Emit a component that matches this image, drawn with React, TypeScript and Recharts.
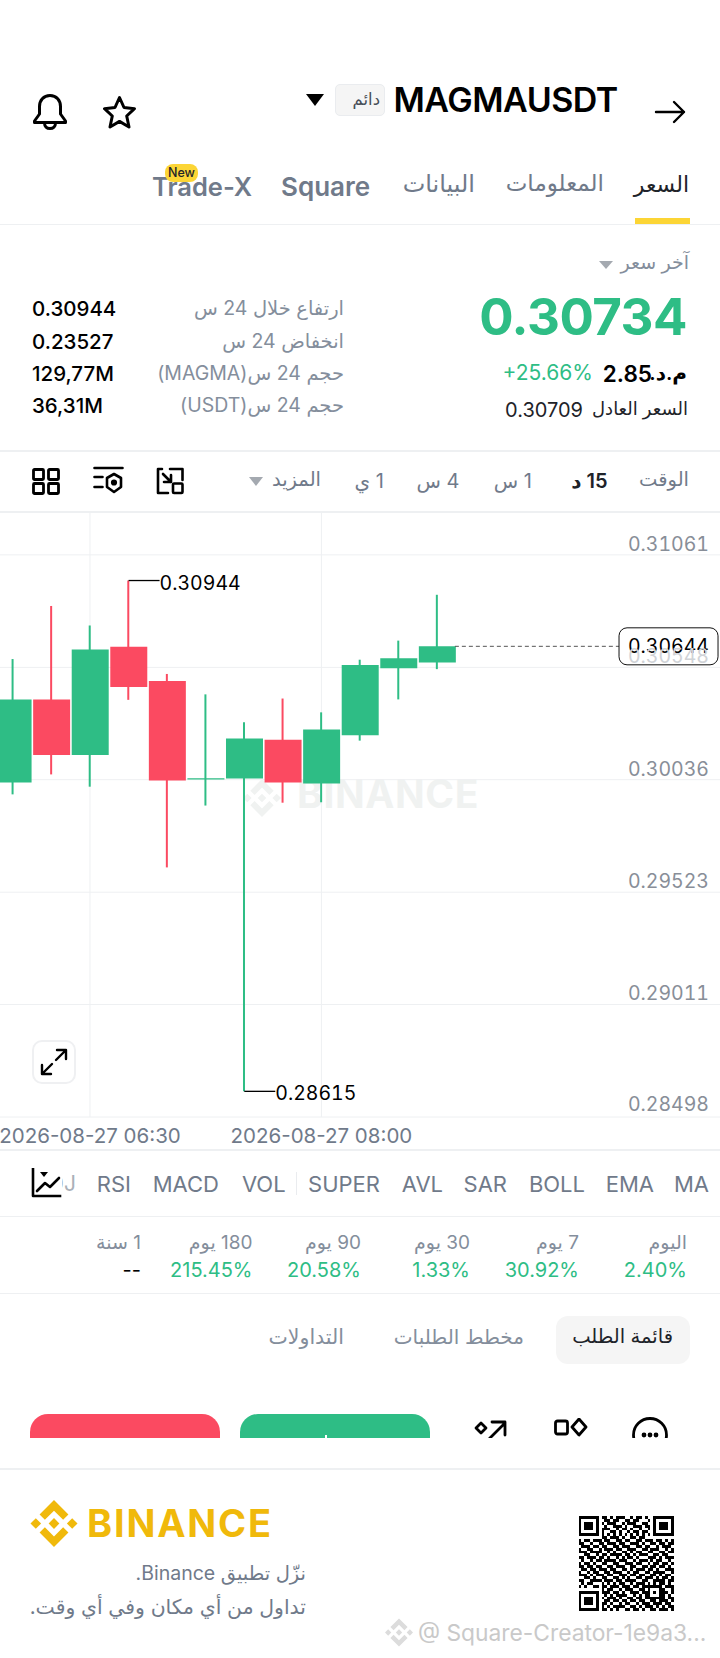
import React from "react";
import { ComposedChart, Bar, Cell, XAxis, YAxis, CartesianGrid, ReferenceDot, ReferenceLine } from "recharts";

const candleIndex = [0, 1, 2, 3, 4, 5, 6, 7, 8, 9, 10, 11];
const opens = [0.30023, 0.30402, 0.30149, 0.30642, 0.30486, 0.30037, 0.30041, 0.30218, 0.30019, 0.30238, 0.30544, 0.3057];
const closes = [0.30402, 0.30149, 0.30629, 0.30458, 0.30032, 0.30043, 0.30224, 0.30023, 0.30265, 0.30559, 0.3059, 0.30644];
const highs = [0.30586, 0.30828, 0.30739, 0.30944, 0.30518, 0.30425, 0.30298, 0.30406, 0.30343, 0.30583, 0.3067, 0.30879];
const lows = [0.29969, 0.3006, 0.30004, 0.304, 0.29636, 0.29918, 0.28615, 0.29931, 0.29933, 0.30214, 0.30402, 0.3054];
const priceTicks = [0.31061, 0.30548, 0.30036, 0.29523, 0.29011, 0.28498];
const timeTicks = [2, 8];
const timeLabels = ["2026-08-27 06:30", "2026-08-27 08:00"];
const lastPrice = 0.30644;
const highMark = { i: 3, v: 0.30944 };
const lowMark = { i: 6, v: 0.28615 };

const tabs = [
  { t: "السعر", x: 689, s: 22, c: "#1e2329", w: 400 },
  { t: "المعلومات", x: 604, s: 23, c: "#707a8a", w: 400 },
  { t: "البيانات", x: 475, s: 24, c: "#707a8a", w: 400 },
];
const leftLabels = ["ارتفاع خلال 24 س", "انخفاض 24 س", "حجم 24 س(MAGMA)", "حجم 24 س(USDT)"];
const leftValues = ["0.30944", "0.23527", "129,77M", "36,31M"];
const leftRows = [309, 342, 374, 406];
const intervals = [
  { t: "15 د", x: 607.5, c: "#1e2329", w: 600 },
  { t: "1 س", x: 532, c: "#707a8a", w: 400 },
  { t: "4 س", x: 459.5, c: "#707a8a", w: 400 },
  { t: "1 ي", x: 384, c: "#707a8a", w: 400 },
];
const indicators = [
  { t: "MA", x: 709 }, { t: "EMA", x: 654 }, { t: "BOLL", x: 585 }, { t: "SAR", x: 507 },
  { t: "AVL", x: 443 }, { t: "SUPER", x: 380 }, { t: "VOL", x: 285.6 }, { t: "MACD", x: 219 }, { t: "RSI", x: 131 },
];
const statLabels = ["اليوم", "7 يوم", "30 يوم", "90 يوم", "180 يوم", "1 سنة"];
const statValues = ["2.40%", "30.92%", "1.33%", "20.58%", "215.45%", "--"];
const statRights = [687, 579, 470, 361, 252.5, 141];

const qrRows = [
  "111111101101011100101101001111111",
  "100000100110110011011000101000001",
  "101110101011100101110011001011101",
  "101110100100111010011101101011101",
  "101110101110010110100100101011101",
  "100000101001101001011011001000001",
  "111111101010101010101010101111111",
  "000000001101110100110110000000000",
  "101101110110011011001101110110101",
  "110010011011101100111010011011011",
  "011101101100110111001101100101110",
  "100110010111011001110011011100101",
  "111011110010100110101100110011011",
  "001100101101111011010111001101100",
  "110111011010010101101000111010111",
  "010010110111101110010111010110010",
  "101101001100110011101100101101101",
  "110110110011011100110011011011010",
  "011011011101100110101110110100111",
  "100101100110111001011001101111001",
  "111010111011001110110110011010110",
  "001101001100110101001101110101101",
  "110011110111011011110011001111011",
  "010110001010101100101110101011010",
  "101001101101110111011011111110111",
  "000000001011001011100110100011001",
  "111111101110110100111011101011101",
  "100000100101011110010101100011010",
  "101110101011101001101101111111011",
  "101110100110110110110110011011101",
  "101110101101001011001011101110110",
  "100000101010111100110101110101011",
  "111111101101010011011010011011101",
];

const FONT = "Inter, 'DejaVu Sans', sans-serif";
const GREEN = "#2ebd85";
const RED = "#fb4a61";
const GRAY = "#707a8a";
const LINE = "#eef0f2";

const rows = candleIndex.map((i) => ({
  i,
  wick: [lows[i], highs[i]],
  body: [Math.min(opens[i], closes[i]), Math.max(opens[i], closes[i])],
  up: closes[i] >= opens[i],
}));

const T = ({ x, y, s, c = "#1e2329", w = 400, r = false, rtl = false, ls, children }: any) => (
  <div
    style={{
      position: "absolute",
      top: y,
      ...(r ? { right: 720 - x } : { left: x }),
      transform: "translateY(-50%)",
      fontSize: s,
      color: c,
      fontWeight: w,
      lineHeight: 1.2,
      whiteSpace: "nowrap",
      direction: rtl ? "rtl" : "ltr",
      fontFamily: FONT,
      letterSpacing: ls,
    }}
  >
    {children}
  </div>
);

const Rule = ({ y, h = 1 }: any) => (
  <div style={{ position: "absolute", left: 0, top: y, width: 720, height: h, background: LINE }} />
);

const Tri = ({ x, y, w, h, c }: any) => (
  <svg style={{ position: "absolute", left: x, top: y }} width={w} height={h}>
    <polygon points={`0,0 ${w},0 ${w / 2},${h}`} fill={c} />
  </svg>
);

const Icon = ({ x, y, w, h, vb, children, sw = 2.6 }: any) => (
  <svg
    style={{ position: "absolute", left: x, top: y }}
    width={w}
    height={h}
    viewBox={vb}
    fill="none"
    stroke="#000"
    strokeWidth={sw}
    strokeLinejoin="round"
    strokeLinecap="round"
  >
    {children}
  </svg>
);

const BinanceMark = ({ x, y, w, h, c }: any) => (
  <svg style={{ position: "absolute", left: x, top: y }} width={w} height={h} viewBox="0 0 126.61 126.61" fill={c}>
    <polygon points="38.73 53.2 63.3 28.63 87.88 53.21 102.18 38.91 63.3 0 24.43 38.9" />
    <polygon points="0 63.31 14.3 49 28.6 63.3 14.3 77.6" />
    <polygon points="38.73 73.41 63.3 97.99 87.88 73.4 102.19 87.7 63.3 126.6 24.43 87.73" />
    <polygon points="98 63.31 112.3 49 126.6 63.3 112.3 77.6" />
    <polygon points="77.79 63.3 63.3 48.8 48.81 63.28 63.3 77.79" />
  </svg>
);

const PriceTick = ({ y, payload }: any) => (
  <text
    x={709}
    y={y - (payload.value === 0.28498 ? 13 : 11)}
    textAnchor="end"
    dominantBaseline="central"
    fontSize={19.5}
    fill={payload.value === 0.30548 ? "#d0d3d7" : "#888e98"}
    fontFamily={FONT}
    style={{ fontVariantNumeric: "tabular-nums" }}
  >
    {payload.value.toFixed(5)}
  </text>
);

const TimeTick = ({ x, y, payload }: any) => (
  <text x={x} y={y + 10} textAnchor="middle" dominantBaseline="central" fontSize={20.5} fill={GRAY} fontFamily={FONT}>
    {timeLabels[timeTicks.indexOf(payload.value)]}
  </text>
);

const Extreme = ({ cx, cy, label }: any) => (
  <g>
    <line x1={cx} x2={cx + 31} y1={cy} y2={cy} stroke="#000" strokeWidth={1.3} />
    <text x={cx + 31} y={cy + 2} dominantBaseline="central" fontSize={19.5} fill="#000" fontFamily={FONT} style={{ fontVariantNumeric: "tabular-nums" }}>
      {label}
    </text>
  </g>
);

const PriceTag = ({ cx, cy }: any) => (
  <g>
    <rect x={cx} y={cy - 18.5} width={99} height={37} rx={8} fill="#fff" fillOpacity={0.85} stroke="#111" strokeWidth={1} />
    <text x={cx + 90} y={cy} textAnchor="end" dominantBaseline="central" fontSize={19.5} fill="#000" fontFamily={FONT} style={{ fontVariantNumeric: "tabular-nums" }}>
      {lastPrice.toFixed(5)}
    </text>
  </g>
);

const xDomain = [-0.3334, 18.334];
const yDomain = [0.28498, 0.31261];

function Chart() {
  return (
    <ComposedChart width={720} height={640} data={rows} margin={{ top: 0, right: 0, bottom: 0, left: 0 }} style={{ position: "absolute", left: 0, top: 511 }}>
      <CartesianGrid stroke={LINE} strokeWidth={1} xAxisId="t" yAxisId="p" syncWithTicks />
      <XAxis
        xAxisId="t"
        dataKey="i"
        type="number"
        domain={xDomain}
        allowDataOverflow
        ticks={timeTicks}
        interval={0}
        height={34}
        axisLine={false}
        tickLine={false}
        tick={<TimeTick />}
      />
      <XAxis xAxisId="w" dataKey="i" type="number" domain={xDomain} allowDataOverflow hide height={0} />
      <YAxis
        yAxisId="p"
        orientation="right"
        mirror
        width={1}
        type="number"
        domain={yDomain}
        allowDataOverflow
        ticks={priceTicks}
        interval={0}
        axisLine={false}
        tickLine={false}
        tick={<PriceTick />}
      />
      <Bar xAxisId="w" yAxisId="p" dataKey="wick" barSize={2} isAnimationActive={false}>
        {rows.map((d) => (
          <Cell key={d.i} fill={d.up ? GREEN : RED} />
        ))}
      </Bar>
      <Bar xAxisId="t" yAxisId="p" dataKey="body" barSize={37} isAnimationActive={false}>
        {rows.map((d) => (
          <Cell key={d.i} fill={d.up ? GREEN : RED} />
        ))}
      </Bar>
      <ReferenceLine
        xAxisId="t"
        yAxisId="p"
        segment={[{ x: 11.46, y: lastPrice }, { x: 15.716, y: lastPrice }]}
        stroke="#555"
        strokeDasharray="4 3"
        strokeWidth={1}
        ifOverflow="visible"
      />
      <ReferenceDot xAxisId="t" yAxisId="p" x={highMark.i} y={highMark.v} ifOverflow="visible" shape={(p: any) => <Extreme {...p} label={highMark.v.toFixed(5)} />} />
      <ReferenceDot xAxisId="t" yAxisId="p" x={lowMark.i} y={lowMark.v} ifOverflow="visible" shape={(p: any) => <Extreme {...p} label={lowMark.v.toFixed(5)} />} />
      <ReferenceDot xAxisId="t" yAxisId="p" x={15.716} y={lastPrice} ifOverflow="visible" shape={(p: any) => <PriceTag {...p} />} />
    </ComposedChart>
  );
}

export default function App() {
  return (
    <div style={{ position: "relative", width: 720, height: 1658, overflow: "hidden", background: "#fff", fontFamily: FONT }}>
      <style>{`html,body{margin:0;padding:0;background:#fff}`}</style>

      {/* header */}
      <Icon x={32} y={93} w={36} h={37} vb="0 0 36 37" sw={3}>
        <path d="M18 2.5c-6.5 0-10.5 5-10.5 11v7.5L2.5 28v1.5h31V28l-5-7v-7.5c0-6-4-11-10.5-11z" />
        <path d="M12.5 30c0 3.5 2.3 5.5 5.5 5.5s5.5-2 5.5-5.5" />
      </Icon>
      <Icon x={102} y={95} w={35} h={34} vb="0 0 35 34" sw={3}>
        <polygon points="17.5,2.5 22,12.5 32.5,13.7 24.7,21 27,32 17.5,26.4 8,32 10.3,21 2.5,13.7 13,12.5" />
      </Icon>
      <Tri x={306} y={94} w={18} h={12} c="#000" />
      <div style={{ position: "absolute", left: 335, top: 84, width: 50, height: 32, boxSizing: "border-box", background: "#f5f5f5", border: "1px solid #eaecef", borderRadius: 5 }} />
      <T x={380} y={100} s={16.5} c="#474d57" r rtl>دائم</T>
      <T x={393.5} y={100} s={34} w={600} c="#000" ls={-0.5}>MAGMAUSDT</T>
      <Icon x={654} y={100} w={33} h={24} vb="0 0 33 24" sw={2.4}>
        <path d="M2 12h28M20 2l10 10-10 10" />
      </Icon>

      {/* tabs */}
      {tabs.map((t) => (
        <T key={t.t} x={t.x} y={184} s={t.s} c={t.c} w={t.w} r rtl>{t.t}</T>
      ))}
      <T x={281} y={187} s={26} c={GRAY} w={600}>Square</T>
      <T x={152} y={187} s={25.5} c={GRAY} w={600}>Trade-X</T>
      <div style={{ position: "absolute", left: 165, top: 164, width: 33, height: 18, borderRadius: 8, background: "#fcd535", color: "#1e2329", fontSize: 12.5, fontWeight: 500, lineHeight: "18px", textAlign: "center" }}>New</div>
      <div style={{ position: "absolute", left: 635, top: 218, width: 55, height: 6, background: "#fcd535" }} />
      <Rule y={224} />

      {/* price */}
      <T x={689} y={263} s={19} c="#848e9c" r rtl>آخر سعر</T>
      <Tri x={599} y={261} w={14} h={8} c="#a4a9b0" />
      <T x={687} y={317} s={51} w={700} c={GREEN} r ls={-0.5}>0.30734</T>
      <T x={687} y={373} s={20} w={600} c="#000" r rtl>م.د.</T>
      <T x={652} y={373} s={22.5} w={600} c="#000" r>2.85</T>
      <T x={593} y={373} s={21} c={GREEN} r>+25.66%</T>
      <T x={688} y={409} s={18} c="#1e2329" r rtl>السعر العادل</T>
      <T x={583} y={410} s={20} c="#1e2329" r>0.30709</T>
      {leftLabels.map((t, k) => (
        <T key={t} x={344} y={leftRows[k]} s={19.5} c="#848e9c" r rtl>{t}</T>
      ))}
      {leftValues.map((t, k) => (
        <T key={t} x={32} y={leftRows[k]} s={20.5} w={500} c="#000">{t}</T>
      ))}
      <Rule y={450} h={1.5} />

      {/* intervals */}
      <T x={689} y={480} s={19.5} c={GRAY} r rtl>الوقت</T>
      {intervals.map((t) => (
        <T key={t.t} x={t.x} y={481} s={20} c={t.c} w={t.w} r rtl>{t.t}</T>
      ))}
      <T x={321} y={480} s={19.5} c={GRAY} r rtl>المزيد</T>
      <Tri x={249} y={477} w={14} h={9} c="#a4a9b0" />
      <Icon x={32} y={468} w={28} h={27} vb="0 0 28 27" sw={2.8}>
        <rect x="1.5" y="1.5" width="10" height="10" rx="1" />
        <rect x="16.5" y="1.5" width="10" height="10" rx="1" />
        <rect x="1.5" y="15.5" width="10" height="10" rx="1" />
        <rect x="16.5" y="15.5" width="10" height="10" rx="1" />
      </Icon>
      <Icon x={93} y={466} w={31} h={29} vb="0 0 31 29" sw={2.6}>
        <path d="M1.5 2h28M1.5 11h8M1.5 21h8" />
        <polygon points="21,8 28,12 28,21 21,26 14,21 14,12" />
        <circle cx="21" cy="16.5" r="1.8" fill="#000" />
      </Icon>
      <Icon x={156} y={467} w={29} h={28} vb="0 0 29 28" sw={2.6}>
        <path d="M14 2h12.5v11M12 26H2V2h4" />
        <path d="M7 7l8 8M15 8v7H8" />
        <rect x="17" y="16.5" width="9.5" height="9.5" rx="1" />
      </Icon>
      <Rule y={511} h={1.5} />

      {/* watermark under candles */}
      <BinanceMark x={243} y={779} w={38} h={38} c="#f0f2f1" />
      <T x={297} y={794} s={39} w={700} c="#f0f2f1" ls={0.6}>BINANCE</T>

      <Chart />

      {/* expand button */}
      <div style={{ position: "absolute", left: 32, top: 1040, width: 44, height: 44, boxSizing: "border-box", border: "2px solid #eff0f2", borderRadius: 10, background: "#fff" }} />
      <Icon x={38} y={1047} w={32} h={30} vb="0 0 32 30" sw={2.4}>
        <path d="M4 27L14 17M4 18v9h9M28 3L18 13M19 3h9v9" />
      </Icon>

      <Rule y={1149} h={1.5} />

      {/* indicator row */}
      {indicators.map((t) => (
        <T key={t.t} x={t.x} y={1184} s={22} c={GRAY} r>{t.t}</T>
      ))}
      <div style={{ position: "absolute", left: 296, top: 1172, width: 1, height: 23, background: "#eaecef" }} />
      <div style={{ position: "absolute", left: 40, top: 1170, width: 36, height: 28, overflow: "hidden" }}>
        <span style={{ position: "absolute", right: 0, top: 1, fontSize: 21, color: "#aab0b8", fontFamily: FONT }}>DJ</span>
      </div>
      <div style={{ position: "absolute", left: 28, top: 1166, width: 34, height: 33, background: "#fff" }} />
      <Icon x={31} y={1168} w={32} h={30} vb="0 0 32 30" sw={2.6}>
        <path d="M2 1v27h27" strokeLinecap="square" />
        <path d="M6 23l8-8 5 4 9-9" />
        <polygon points="9,4 17,4 13,9" fill="#000" stroke="none" />
      </Icon>
      <Rule y={1216} />

      {/* period performance */}
      {statLabels.map((t, k) => (
        <T key={t} x={statRights[k]} y={1243} s={19} c="#848e9c" r rtl>{t}</T>
      ))}
      {statValues.map((t, k) => (
        <T key={t} x={statRights[k]} y={1270} s={20} c={t === "--" ? "#000" : GREEN} r>{t}</T>
      ))}
      <Rule y={1293} />

      {/* book tabs */}
      <div style={{ position: "absolute", left: 556, top: 1316, width: 134, height: 48, background: "#f5f5f5", borderRadius: 12 }} />
      <T x={673} y={1337} s={19.5} c="#1e2329" r rtl>قائمة الطلب</T>
      <T x={524} y={1337} s={20} c="#848e9c" r rtl>مخطط الطلبات</T>
      <T x={344} y={1337} s={20.5} c="#848e9c" r rtl>التداولات</T>

      {/* clipped action bar */}
      <div style={{ position: "absolute", left: 0, top: 1400, width: 720, height: 38, overflow: "hidden" }}>
        <div style={{ position: "absolute", left: 30, top: 14, width: 190, height: 60, background: RED, borderRadius: 18 }} />
        <div style={{ position: "absolute", left: 240, top: 14, width: 190, height: 60, background: GREEN, borderRadius: 18 }} />
        <div style={{ position: "absolute", left: 325, top: 35, width: 2, height: 3, background: "#fff" }} />
        <Icon x={474} y={19} w={34} h={22} vb="0 0 34 22" sw={2.8}>
          <polygon points="7,4 12,9 7,14 2,9" />
          <path d="M14 21L30 5M18 3h13v13" />
        </Icon>
        <Icon x={553} y={18} w={35} h={24} vb="0 0 35 24" sw={2.8}>
          <rect x="2.5" y="3" width="12" height="13" rx="2" />
          <polygon points="26,1 33,9 26,17 19,9" />
        </Icon>
        <Icon x={632} y={16} w={36} h={24} vb="0 0 36 24" sw={2.8}>
          <circle cx="18" cy="19" r="16.5" />
          <circle cx="12" cy="19" r="1" fill="#000" />
          <circle cx="18" cy="19" r="1" fill="#000" />
          <circle cx="24" cy="19" r="1" fill="#000" />
        </Icon>
      </div>
      <Rule y={1468} h={2} />

      {/* footer */}
      <BinanceMark x={30} y={1500} w={48} h={47} c="#f0b90b" />
      <T x={87} y={1524} s={38} w={700} c="#f0b90b" ls={1.8}>BINANCE</T>
      <T x={306} y={1574} s={19.5} c={GRAY} r rtl>نزّل تطبيق Binance.</T>
      <T x={306} y={1607} s={20.4} c={GRAY} r rtl>تداول من أي مكان وفي أي وقت.</T>
      <svg style={{ position: "absolute", left: 577.5, top: 1516 }} width={96} height={95} viewBox="0 0 33 33" shapeRendering="crispEdges">
        {qrRows.map((row, ry) =>
          row.split("").map((cell, rx) => (cell === "1" ? <rect key={`${rx}-${ry}`} x={rx} y={ry} width={1} height={1} fill="#000" /> : null))
        )}
      </svg>
      <BinanceMark x={385} y={1618} w={28} h={29} c="#dcdcdc" />
      <T x={418} y={1633} s={22.8} c="#c9c9c9">@ Square-Creator-1e9a3...</T>
    </div>
  );
}
